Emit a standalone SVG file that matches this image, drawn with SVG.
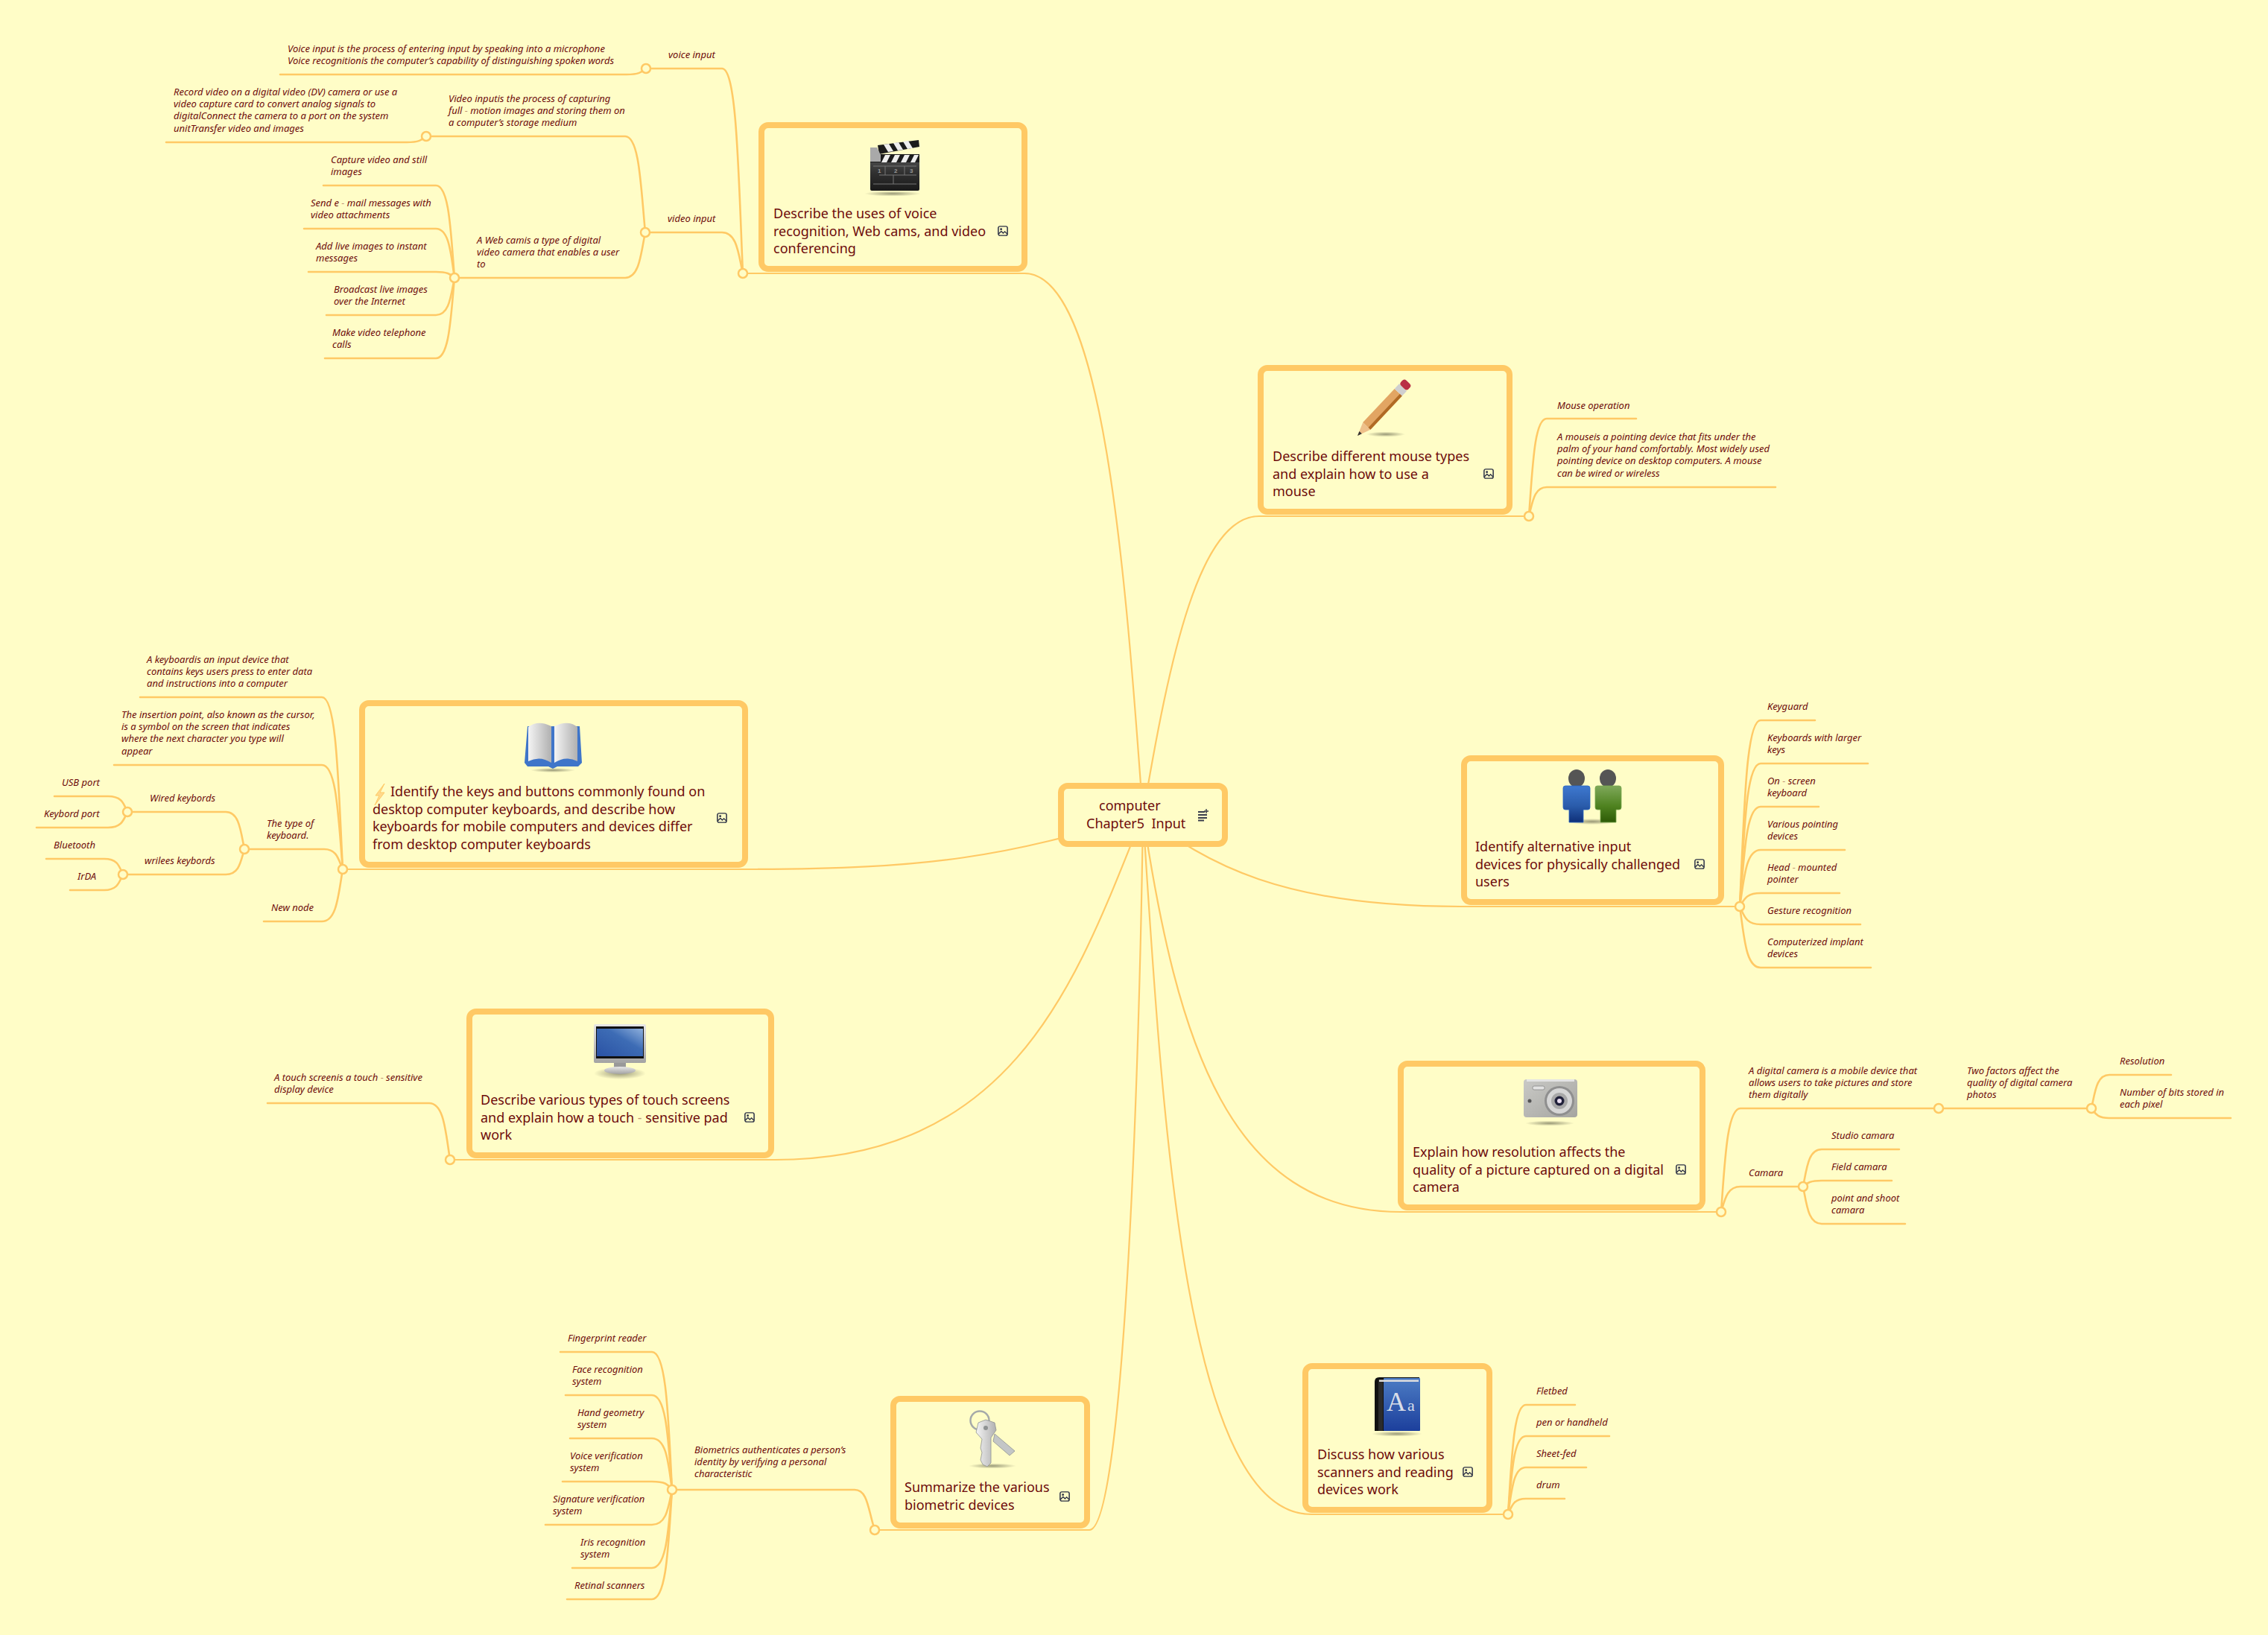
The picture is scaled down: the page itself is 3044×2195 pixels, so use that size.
<svg xmlns="http://www.w3.org/2000/svg" width="3044" height="2195" viewBox="0 0 3044 2195">
<style>
.c{fill:none;stroke:#ffc965;stroke-width:2.600;stroke-linecap:round}
.r{fill:none;stroke:#ffc965;stroke-width:2.200;stroke-linecap:round}
.d{fill:#fffdc7;stroke:#ffc965;stroke-width:2.500}
.n{fill:#fffdc7;stroke:#ffc965;stroke-width:8}
.t{font-family:"Noto Sans","Liberation Sans",sans-serif;font-size:18px;fill:#6e0b0b}
.s{font-family:"Noto Sans","Liberation Sans",sans-serif;font-size:13px;font-style:italic;fill:#6e0b0b}
.h{fill-opacity:.45}
</style>
<defs>
<symbol id="img" viewBox="0 0 16 16"><rect x="1" y="1" width="14" height="14" rx="2.500" fill="none" stroke="#2a2f45" stroke-width="1.700"/><circle cx="5.300" cy="5.300" r="1.600" fill="#2a2f45"/><path d="M1.500 12.500L5.500 8.500L8.500 11.500L11 9L14.500 12.500" fill="none" stroke="#2a2f45" stroke-width="1.500"/></symbol>
<linearGradient id="gDark" x1="0" y1="0" x2="0" y2="1"><stop offset="0" stop-color="#555"/><stop offset=".55" stop-color="#2e2e2e"/><stop offset="1" stop-color="#1a1a1a"/></linearGradient>
<linearGradient id="gBlue" x1="0" y1="1" x2="1" y2="0"><stop offset="0" stop-color="#2b52a4"/><stop offset=".6" stop-color="#3d6cb5"/><stop offset="1" stop-color="#8fb0dc"/></linearGradient>
<linearGradient id="gCover" x1="0" y1="0" x2="0" y2="1"><stop offset="0" stop-color="#4c7cc4"/><stop offset="1" stop-color="#1c3f9c"/></linearGradient>
<linearGradient id="gSil" x1="0" y1="0" x2="0" y2="1"><stop offset="0" stop-color="#e6e6e6"/><stop offset="1" stop-color="#a3a3a3"/></linearGradient>
<linearGradient id="gCam" x1="0" y1="0" x2="1" y2="1"><stop offset="0" stop-color="#c9c9c6"/><stop offset="1" stop-color="#a5a5a0"/></linearGradient>
<linearGradient id="gSil2" x1="0" y1="0" x2="1" y2="0"><stop offset="0" stop-color="#f4f4f4"/><stop offset="1" stop-color="#b0b0b0"/></linearGradient>
<linearGradient id="gP1" x1="0" y1="0" x2="0" y2="1"><stop offset="0" stop-color="#3e78cf"/><stop offset=".55" stop-color="#2a5cab"/><stop offset="1" stop-color="#0e2f78"/></linearGradient>
<linearGradient id="gP2" x1="0" y1="0" x2="0" y2="1"><stop offset="0" stop-color="#7fa85a"/><stop offset=".55" stop-color="#4f8320"/><stop offset="1" stop-color="#2d5a06"/></linearGradient>
<radialGradient id="gSh"><stop offset="0" stop-color="#77775c" stop-opacity=".75"/><stop offset="1" stop-color="#77775c" stop-opacity="0"/></radialGradient>
</defs>
<rect width="3044" height="2195" fill="#fffdc7"/>
<g id="connectors">
<path class="r" d="M1534 1094C1510 760 1480 367 1375 367L997 367"/>
<path class="r" d="M1534 1094C1570 880 1610 693 1690 693L2052 693"/>
<path class="r" d="M1534 1094C1620 1160 1720 1217 1960 1217L2335 1217"/>
<path class="r" d="M1534 1094C1580 1400 1650 1627 1880 1627L2310 1627"/>
<path class="r" d="M1534 1094C1560 1500 1590 2033 1760 2033L2024 2033"/>
<path class="r" d="M1534 1094C1530 1400 1510 2054 1462 2054L1174 2054"/>
<path class="r" d="M1534 1094C1450 1300 1370 1557 1040 1557L604 1557"/>
<path class="r" d="M1534 1094C1350 1150 1250 1167 1000 1167L460 1167"/>
<path class="c" d="M997 367C991 230 989 92 969 92L867 92"/>
<path class="c" d="M997 367C991 340 989 312 969 312L866 312"/>
<path class="c" d="M867 92C862 96 859 100 841 100L376 100"/>
<path class="c" d="M866 312C860 248 858 183 839 183L572 183"/>
<path class="c" d="M866 312C860 342 858 373 839 373L610 373"/>
<path class="c" d="M572 183C567 187 564 191 546 191L223 191"/>
<path class="c" d="M610 373C605 311 603 249 585 249L434 249"/>
<path class="c" d="M610 373C605 340 603 307 585 307L408 307"/>
<path class="c" d="M610 373C605 369 603 365 585 365L414 365"/>
<path class="c" d="M610 373C605 398 603 423 585 423L438 423"/>
<path class="c" d="M610 373C605 427 603 481 585 481L436 481"/>
<path class="c" d="M2052 693C2057 628 2059 562 2076 562L2196 562"/>
<path class="c" d="M2052 693C2057 674 2059 654 2076 654L2383 654"/>
<path class="c" d="M2335 1217C2341 1092 2343 967 2363 967L2436 967"/>
<path class="c" d="M2335 1217C2341 1121 2343 1025 2363 1025L2507 1025"/>
<path class="c" d="M2335 1217C2341 1150 2343 1083 2363 1083L2441 1083"/>
<path class="c" d="M2335 1217C2341 1179 2343 1141 2363 1141L2476 1141"/>
<path class="c" d="M2335 1217C2341 1208 2343 1199 2363 1199L2469 1199"/>
<path class="c" d="M2335 1217C2341 1229 2343 1241 2363 1241L2497 1241"/>
<path class="c" d="M2335 1217C2341 1258 2343 1299 2363 1299L2511 1299"/>
<path class="c" d="M2310 1627C2315 1558 2318 1488 2336 1488L2807 1488"/>
<path class="c" d="M2310 1627C2315 1610 2318 1593 2336 1593L2420 1593"/>
<path class="c" d="M2807 1488C2812 1465 2814 1443 2831 1443L2914 1443"/>
<path class="c" d="M2807 1488C2812 1494 2814 1501 2831 1501L2994 1501"/>
<path class="c" d="M2420 1593C2425 1568 2427 1543 2445 1543L2549 1543"/>
<path class="c" d="M2420 1593C2425 1589 2427 1585 2445 1585L2539 1585"/>
<path class="c" d="M2420 1593C2425 1618 2427 1643 2445 1643L2557 1643"/>
<path class="c" d="M2024 2033C2029 1960 2031 1886 2048 1886L2114 1886"/>
<path class="c" d="M2024 2033C2029 1980 2031 1928 2048 1928L2160 1928"/>
<path class="c" d="M2024 2033C2029 2001 2031 1970 2048 1970L2129 1970"/>
<path class="c" d="M2024 2033C2029 2022 2031 2012 2048 2012L2100 2012"/>
<path class="c" d="M1174 2054C1165 2027 1165 2000 1147 2000L902 2000"/>
<path class="c" d="M902 2000C897 1907 895 1815 875 1815L752 1815"/>
<path class="c" d="M902 2000C897 1936 895 1873 875 1873L759 1873"/>
<path class="c" d="M902 2000C897 1965 895 1931 875 1931L765 1931"/>
<path class="c" d="M902 2000C897 1994 895 1989 875 1989L755 1989"/>
<path class="c" d="M902 2000C897 2023 895 2047 875 2047L732 2047"/>
<path class="c" d="M902 2000C897 2052 895 2105 875 2105L768 2105"/>
<path class="c" d="M902 2000C897 2073 895 2147 875 2147L761 2147"/>
<path class="c" d="M604 1557C598 1519 596 1481 576 1481L359 1481"/>
<path class="c" d="M460 1167C454 1051 452 936 432 936L188 936"/>
<path class="c" d="M460 1167C454 1097 452 1027 432 1027L153 1027"/>
<path class="c" d="M460 1167C454 1153 452 1140 435 1140L328 1140"/>
<path class="c" d="M460 1167C454 1202 452 1237 432 1237L354 1237"/>
<path class="c" d="M328 1140C323 1115 321 1090 303 1090L171 1090"/>
<path class="c" d="M328 1140C323 1157 321 1174 303 1174L165 1174"/>
<path class="c" d="M171 1090C166 1079 164 1069 145 1069L73 1069"/>
<path class="c" d="M171 1090C166 1100 164 1111 145 1111L49 1111"/>
<path class="c" d="M165 1174C160 1163 158 1153 140 1153L62 1153"/>
<path class="c" d="M165 1174C160 1184 158 1195 140 1195L94 1195"/>
<circle class="d" cx="997" cy="367" r="6"/><circle class="d" cx="867" cy="92" r="6"/><circle class="d" cx="866" cy="312" r="6"/><circle class="d" cx="572" cy="183" r="6"/><circle class="d" cx="610" cy="373" r="6"/>
<circle class="d" cx="2052" cy="693" r="6"/><circle class="d" cx="2335" cy="1217" r="6"/><circle class="d" cx="2310" cy="1627" r="6"/><circle class="d" cx="2602" cy="1488" r="6"/><circle class="d" cx="2807" cy="1488" r="6"/><circle class="d" cx="2420" cy="1593" r="6"/>
<circle class="d" cx="2024" cy="2033" r="6"/><circle class="d" cx="1174" cy="2054" r="6"/><circle class="d" cx="902" cy="2000" r="6"/><circle class="d" cx="604" cy="1557" r="6"/><circle class="d" cx="460" cy="1167" r="6"/><circle class="d" cx="328" cy="1140" r="6"/><circle class="d" cx="171" cy="1090" r="6"/><circle class="d" cx="165" cy="1174" r="6"/>
</g>
<g id="root"><rect class="n" x="1424" y="1055" width="220" height="78" rx="9"/>
<text class="t" x="1475" y="1088">computer</text><text class="t" x="1458" y="1112" xml:space="preserve">Chapter5  Input</text>
<path d="M1608 1090h9M1608 1094h12M1608 1098h12M1608 1101.500h8" stroke="#3a3d4c" stroke-width="1.800" fill="none"/><path d="M1619 1086v6M1616 1089h6" stroke="#3a3d4c" stroke-width="1.400"/></g>
<g id="node-video"><rect class="n" x="1022" y="168" width="353" height="193" rx="9"/>
<ellipse cx="1198" cy="260" rx="38" ry="3.500" fill="url(#gSh)"/>
<rect x="1168" y="207" width="66" height="49" rx="2" fill="url(#gDark)"/>
<rect x="1168" y="207" width="66" height="11" fill="#1c1c1c"/>
<path d="M1183 218l5-10h7l-5 10zM1196 218l5-10h7l-5 10zM1209 218l5-10h7l-5 10zM1222 218l5-10h6l-5 10z" fill="#eee"/>
<path d="M1178 195L1233 188L1234 197L1180 207Z" fill="#1c1c1c"/>
<path d="M1186 194l7-1l6 10l-7 1zM1199 192l7-1l6 10l-7 1zM1212 190l7-1l6 10l-7 1z" fill="#eee"/>
<path d="M1168 198H1177L1182 208V217H1168Z" fill="#a9a9a9"/>
<path d="M1172 223H1230M1180 235H1230M1188 223V235M1214 223V235M1199 235V247M1172 247H1230" stroke="#777" stroke-width="1" fill="none"/>
<text x="1178" y="232" font-family="Liberation Sans,sans-serif" font-size="8" font-weight="700" fill="#999">1</text><text x="1200" y="232" font-family="Liberation Sans,sans-serif" font-size="8" font-weight="700" fill="#999">2</text><text x="1221" y="232" font-family="Liberation Sans,sans-serif" font-size="8" font-weight="700" fill="#999">3</text>
<text class="t" x="1038" y="293">Describe the uses of voice<tspan x="1038" dy="23.500">recognition, Web cams, and video</tspan><tspan x="1038" dy="23.500">conferencing</tspan></text>
<use href="#img" x="1339" y="303" width="14" height="14"/></g>
<g id="node-mouse"><rect class="n" x="1692" y="494" width="334" height="193" rx="9"/>
<ellipse cx="1860" cy="583" rx="26" ry="3.500" fill="url(#gSh)"/>
<g transform="translate(1822 585) rotate(-46.800)"><path d="M0 0L18 -7V7Z" fill="#eec08a"/><path d="M0 0L6 -2.300V2.300Z" fill="#333"/><rect x="18" y="-7" width="62" height="14" fill="#e2a563"/><rect x="18" y="3" width="62" height="4" fill="#b06a25"/><rect x="80" y="-7" width="9" height="14" fill="#cfcfcf"/><rect x="89" y="-7" width="10" height="14" rx="4" fill="#b92f45"/></g>
<text class="t" x="1708" y="619">Describe different mouse types<tspan x="1708" dy="23.500">and explain how to use a</tspan><tspan x="1708" dy="23.500">mouse</tspan></text>
<use href="#img" x="1991" y="629" width="14" height="14"/></g>
<g id="node-alt"><rect class="n" x="1965" y="1018" width="345" height="193" rx="9"/>
<ellipse cx="2137" cy="1103" rx="34" ry="4" fill="url(#gSh)"/>
<ellipse cx="2116" cy="1045" rx="11" ry="12" fill="#555"/><ellipse cx="2158" cy="1045" rx="11" ry="12" fill="#555"/>
<path d="M2101 1055H2131Q2134 1055 2134 1058V1084Q2134 1087 2131 1087H2125V1104H2106V1087H2101Q2098 1087 2098 1084V1058Q2098 1055 2101 1055Z" fill="url(#gP1)" stroke="#2a66c4" stroke-width=".8"/>
<path d="M2144 1055H2173Q2176 1055 2176 1058V1084Q2176 1087 2173 1087H2169V1104H2148V1087H2144Q2141 1087 2141 1084V1058Q2141 1055 2144 1055Z" fill="url(#gP2)" stroke="#7aa84f" stroke-width=".8"/>
<text class="t" x="1980" y="1143">Identify alternative input<tspan x="1980" dy="23.500">devices for physically challenged</tspan><tspan x="1980" dy="23.500">users</tspan></text>
<use href="#img" x="2274" y="1153" width="14" height="14"/></g>
<g id="node-camera"><rect class="n" x="1880" y="1428" width="405" height="193" rx="9"/>
<ellipse cx="2080" cy="1508" rx="33" ry="3.500" fill="url(#gSh)"/>
<rect x="2045" y="1449" width="72" height="51" rx="4" fill="url(#gCam)"/>
<rect x="2049" y="1449" width="64" height="3" fill="#e4e4e4"/>
<rect x="2057" y="1458" width="16" height="5" rx="2" fill="#e2e2e2" stroke="#888" stroke-width=".8"/>
<circle cx="2053" cy="1478" r="2.500" fill="#555"/>
<circle cx="2093" cy="1478" r="20" fill="#8f8f8f"/>
<circle cx="2093" cy="1478" r="17" fill="#d6d6d6"/>
<circle cx="2093" cy="1478" r="11" fill="#a8a8a8"/>
<circle cx="2093" cy="1478" r="6.500" fill="#20203a"/><circle cx="2093" cy="1478" r="3" fill="#e8dcf0"/>
<text class="t" x="1896" y="1553">Explain how resolution affects the<tspan x="1896" dy="23.500">quality of a picture captured on a digital</tspan><tspan x="1896" dy="23.500">camera</tspan></text>
<use href="#img" x="2249" y="1563" width="14" height="14"/></g>
<g id="node-scanners"><rect class="n" x="1752" y="1834" width="247" height="193" rx="9"/>
<ellipse cx="1875" cy="1925" rx="34" ry="3.500" fill="url(#gSh)"/>
<path d="M1845 1855Q1845 1849 1851 1849H1905V1921H1845Z" fill="#111"/><rect x="1850" y="1852" width="6" height="69" fill="#2b2b2b"/>
<rect x="1857" y="1850" width="49" height="71" rx="1" fill="url(#gCover)"/><rect x="1851" y="1852.500" width="53" height="2.500" fill="#ddd"/>
<text x="1861" y="1894" font-family="Liberation Serif,serif" font-size="36" fill="#d9dee8">A</text><text x="1889" y="1894" font-family="Liberation Serif,serif" font-size="22" fill="#d9dee8">a</text>
<text class="t" x="1768" y="1959">Discuss how various<tspan x="1768" dy="23.500">scanners and reading</tspan><tspan x="1768" dy="23.500">devices work</tspan></text>
<use href="#img" x="1963" y="1969" width="14" height="14"/></g>
<g id="node-biometric"><rect class="n" x="1199" y="1878" width="260" height="170" rx="9"/>
<ellipse cx="1332" cy="1968" rx="32" ry="3.500" fill="url(#gSh)"/>
<circle cx="1315" cy="1907" r="12.500" fill="none" stroke="#a5a9a9" stroke-width="2.500"/>
<path d="M1335 1925L1362 1948L1355 1954L1333 1935Z" fill="#c3c6c6" stroke="#8e9292" stroke-width=".8"/>
<path d="M1310 1923L1313 1910L1323 1906L1335 1910L1337 1920L1330 1930V1964L1325 1969L1319 1966L1316 1960L1318 1950L1316 1944L1318 1932Z" fill="url(#gSil2)" stroke="#8e9292" stroke-width=".8"/>
<circle cx="1323" cy="1917" r="3" fill="#8e9292"/>
<text class="t" x="1214" y="2003">Summarize the various<tspan x="1214" dy="23.500">biometric devices</tspan></text>
<use href="#img" x="1422" y="2002" width="14" height="14"/></g>
<g id="node-touch"><rect class="n" x="630" y="1358" width="405" height="193" rx="9"/>
<ellipse cx="832" cy="1441" rx="35" ry="8" fill="url(#gSh)"/>
<rect x="824" y="1425" width="16" height="12" fill="#999"/>
<ellipse cx="832" cy="1437" rx="21" ry="5" fill="url(#gSil)"/>
<rect x="797" y="1375" width="70" height="52" rx="2" fill="url(#gSil)"/>
<rect x="800" y="1378" width="64" height="43" fill="#111"/><rect x="801" y="1381" width="62" height="37" fill="url(#gBlue)"/>
<text class="t" x="645" y="1483">Describe various types of touch screens<tspan x="645" dy="23.500">and explain how a touch <tspan class="h">-</tspan> sensitive pad</tspan><tspan x="645" dy="23.500">work</tspan></text>
<use href="#img" x="999" y="1493" width="14" height="14"/></g>
<g id="node-keyboard"><rect class="n" x="486" y="944" width="514" height="217" rx="9"/>
<path d="M704 1024L708 975H778L781 1024L776 1029H748L742 1032L736 1029H708Z" fill="#3f75c9"/>
<ellipse cx="742" cy="1034" rx="30" ry="3" fill="url(#gSh)"/>
<path d="M709 1022V976Q722 966 740 975V1024Q725 1014 709 1022Z" fill="url(#gSil2)"/>
<path d="M775 1022V976Q762 966 744 975V1024Q759 1014 775 1022Z" fill="url(#gSil2)"/>
<path d="M516 1052L504 1068H509L503 1081L516 1064H510Z" fill="#ffd98d" stroke="#ffc965" stroke-width="1"/>
<text class="t"><tspan x="524" y="1069">Identify the keys and buttons commonly found on</tspan><tspan x="500" dy="23.500">desktop computer keyboards, and describe how</tspan><tspan x="500" dy="23.500">keyboards for mobile computers and devices differ</tspan><tspan x="500" dy="23.500">from desktop computer keyboards</tspan></text>
<use href="#img" x="962" y="1091" width="14" height="14"/></g>
<g id="labels-video">
<text id="l1" class="s" x="897" y="78">voice input</text>
<text id="l2" class="s" x="386" y="70">Voice input is the process of entering input by speaking into a microphone<tspan x="386" dy="16">Voice recognitionis the computer’s capability of distinguishing spoken words</tspan></text>
<text id="l3" class="s" x="896" y="298">video input</text>
<text id="l4" class="s" x="602" y="137">Video inputis the process of capturing<tspan x="602" dy="16">full <tspan class="h">-</tspan> motion images and storing them on</tspan><tspan x="602" dy="16">a computer’s storage medium</tspan></text>
<text id="l5" class="s" x="233" y="128">Record video on a digital video (DV) camera or use a<tspan x="233" dy="16">video capture card to convert analog signals to</tspan><tspan x="233" dy="16">digitalConnect the camera to a port on the system</tspan><tspan x="233" dy="16.500">unitTransfer video and images</tspan></text>
<text id="l6" class="s" x="640" y="327">A Web camis a type of digital<tspan x="640" dy="16">video camera that enables a user</tspan><tspan x="640" dy="16">to</tspan></text>
<text id="l7" class="s" x="444" y="219">Capture video and still<tspan x="444" dy="16">images</tspan></text>
<text id="l8" class="s" x="417" y="277">Send e <tspan class="h">-</tspan> mail messages with<tspan x="417" dy="16">video attachments</tspan></text>
<text id="l9" class="s" x="424" y="335">Add live images to instant<tspan x="424" dy="16">messages</tspan></text>
<text id="l10" class="s" x="448" y="393">Broadcast live images<tspan x="448" dy="16">over the Internet</tspan></text>
<text id="l11" class="s" x="446" y="451">Make video telephone<tspan x="446" dy="16">calls</tspan></text>
</g>
<g id="labels-mouse">
<text id="l12" class="s" x="2090" y="549">Mouse operation</text>
<text id="l13" class="s" x="2090" y="591">A mouseis a pointing device that fits under the<tspan x="2090" dy="16">palm of your hand comfortably. Most widely used</tspan><tspan x="2090" dy="16">pointing device on desktop computers. A mouse</tspan><tspan x="2090" dy="16.500">can be wired or wireless</tspan></text>
</g>
<g id="labels-alt">
<text id="l14" class="s" x="2372" y="953">Keyguard</text>
<text id="l15" class="s" x="2372" y="995">Keyboards with larger<tspan x="2372" dy="16">keys</tspan></text>
<text id="l16" class="s" x="2372" y="1053">On <tspan class="h">-</tspan> screen<tspan x="2372" dy="16">keyboard</tspan></text>
<text id="l17" class="s" x="2372" y="1111">Various pointing<tspan x="2372" dy="16">devices</tspan></text>
<text id="l18" class="s" x="2372" y="1169">Head <tspan class="h">-</tspan> mounted<tspan x="2372" dy="16">pointer</tspan></text>
<text id="l19" class="s" x="2372" y="1227">Gesture recognition</text>
<text id="l20" class="s" x="2372" y="1269">Computerized implant<tspan x="2372" dy="16">devices</tspan></text>
</g>
<g id="labels-camera">
<text id="l21" class="s" x="2347" y="1442">A digital camera is a mobile device that<tspan x="2347" dy="16">allows users to take pictures and store</tspan><tspan x="2347" dy="16">them digitally</tspan></text>
<text id="l22" class="s" x="2640" y="1442">Two factors affect the<tspan x="2640" dy="16">quality of digital camera</tspan><tspan x="2640" dy="16">photos</tspan></text>
<text id="l23" class="s" x="2845" y="1429">Resolution</text>
<text id="l24" class="s" x="2845" y="1471">Number of bits stored in<tspan x="2845" dy="16">each pixel</tspan></text>
<text id="l25" class="s" x="2347" y="1579">Camara</text>
<text id="l26" class="s" x="2458" y="1529">Studio camara</text>
<text id="l27" class="s" x="2458" y="1571">Field camara</text>
<text id="l28" class="s" x="2458" y="1613">point and shoot<tspan x="2458" dy="16">camara</tspan></text>
</g>
<g id="labels-scanners">
<text id="l29" class="s" x="2062" y="1872">Fletbed</text>
<text id="l30" class="s" x="2062" y="1914">pen or handheld</text>
<text id="l31" class="s" x="2062" y="1956">Sheet-fed</text>
<text id="l32" class="s" x="2062" y="1998">drum</text>
</g>
<g id="labels-biometric">
<text id="l33" class="s" x="932" y="1951">Biometrics authenticates a person’s<tspan x="932" dy="16">identity by verifying a personal</tspan><tspan x="932" dy="16">characteristic</tspan></text>
<text id="l34" class="s" x="762" y="1801">Fingerprint reader</text>
<text id="l35" class="s" x="768" y="1843">Face recognition<tspan x="768" dy="16">system</tspan></text>
<text id="l36" class="s" x="775" y="1901">Hand geometry<tspan x="775" dy="16">system</tspan></text>
<text id="l37" class="s" x="765" y="1959">Voice verification<tspan x="765" dy="16">system</tspan></text>
<text id="l38" class="s" x="742" y="2017">Signature verification<tspan x="742" dy="16">system</tspan></text>
<text id="l39" class="s" x="779" y="2075">Iris recognition<tspan x="779" dy="16">system</tspan></text>
<text id="l40" class="s" x="771" y="2133">Retinal scanners</text>
</g>
<g id="labels-touch">
<text id="l41" class="s" x="368" y="1451">A touch screenis a touch <tspan class="h">-</tspan> sensitive<tspan x="368" dy="16">display device</tspan></text>
</g>
<g id="labels-keyboard">
<text id="l42" class="s" x="197" y="890">A keyboardis an input device that<tspan x="197" dy="16">contains keys users press to enter data</tspan><tspan x="197" dy="16">and instructions into a computer</tspan></text>
<text id="l43" class="s" x="163" y="964">The insertion point, also known as the cursor,<tspan x="163" dy="16">is a symbol on the screen that indicates</tspan><tspan x="163" dy="16">where the next character you type will</tspan><tspan x="163" dy="16.500">appear</tspan></text>
<text id="l44" class="s" x="358" y="1110">The type of<tspan x="358" dy="16">keyboard.</tspan></text>
<text id="l45" class="s" x="364" y="1223">New node</text>
<text id="l46" class="s" x="201" y="1076">Wired keybords</text>
<text id="l47" class="s" x="194" y="1160">wrilees keybords</text>
<text id="l48" class="s" x="83" y="1055">USB port</text>
<text id="l49" class="s" x="59" y="1097">Keybord port</text>
<text id="l50" class="s" x="72" y="1139">Bluetooth</text>
<text id="l51" class="s" x="104" y="1181">IrDA</text>
</g>
</svg>
